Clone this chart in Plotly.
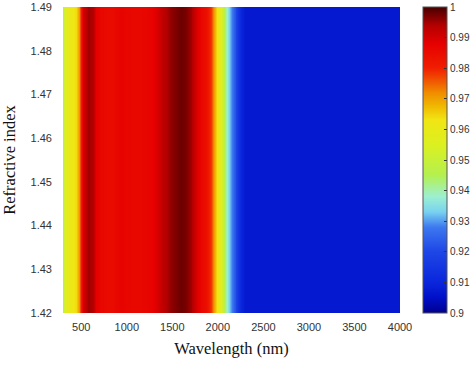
import plotly.graph_objects as go

# Data
wavelength = [300, 330, 385, 440, 472, 500, 516, 570, 627, 660, 715, 825, 935, 1045,
              1155, 1265, 1320, 1375, 1430, 1485, 1540, 1595, 1650, 1705, 1760, 1815,
              1870, 1925, 1958, 1990, 2024, 2057, 2090, 2123, 2156, 2189, 2222, 2255,
              2300, 2500, 3000, 3500, 4000]
transmission = [0.948, 0.958, 0.962, 0.964, 0.971, 0.982, 0.990, 0.995, 0.994, 0.988,
                0.986, 0.985, 0.987, 0.986, 0.986, 0.987, 0.989, 0.992, 0.994, 0.996,
                0.997, 0.998, 0.997, 0.995, 0.990, 0.986, 0.984, 0.978, 0.970, 0.963,
                0.958, 0.950, 0.940, 0.933, 0.928, 0.922, 0.915, 0.910, 0.907, 0.907,
                0.907, 0.907, 0.907]
refractive_index = [1.42, 1.49]
x_ticks = [500, 1000, 1500, 2000, 2500, 3000, 3500, 4000]
y_ticks = [1.42, 1.43, 1.44, 1.45, 1.46, 1.47, 1.48, 1.49]
cb_ticks = [0.90, 0.91, 0.92, 0.93, 0.94, 0.95, 0.96, 0.97, 0.98, 0.99, 1.00]
cb_labels = ["0.9", "0.91", "0.92", "0.93", "0.94", "0.95", "0.96", "0.97", "0.98", "0.99", "1"]

z = [transmission for _ in refractive_index]

colorscale = [
    [0.00, "#00008f"], [0.05, "#0010c8"], [0.10, "#0a26dc"], [0.20, "#1e46e6"],
    [0.28, "#3c78f0"], [0.33, "#78d2f0"], [0.38, "#9cf0d2"], [0.45, "#b4f050"],
    [0.55, "#dcf020"], [0.63, "#f0e614"], [0.68, "#f0b400"], [0.72, "#f08c00"],
    [0.77, "#f04600"], [0.80, "#f01e00"], [0.88, "#e60000"], [0.94, "#b40000"],
    [1.00, "#460000"],
]

fig = go.Figure(go.Heatmap(
    x=wavelength, y=refractive_index, z=z,
    zmin=0.9, zmax=1.0, zsmooth="best", colorscale=colorscale,
    colorbar=dict(
        x=1.068, xanchor="left", y=0.5, yanchor="middle", len=1.0, lenmode="fraction",
        thickness=24, thicknessmode="pixels", outlinewidth=1, outlinecolor="#555",
        xpad=0, ypad=0,
        tickvals=cb_ticks, ticktext=cb_labels, ticks="inside", ticklen=3,
        tickcolor="#333", tickfont=dict(family="Liberation Sans, Arial", size=10, color="#333"),
    ),
))

axis_font = dict(family="Liberation Sans, Arial", size=11, color="#333")
title_font = dict(family="Liberation Serif, Times New Roman", size=16.5, color="#111")

fig.update_layout(
    width=474, height=366,
    margin=dict(l=63, r=74, t=7, b=53, autoexpand=False),
    paper_bgcolor="white", plot_bgcolor="white",
    xaxis=dict(range=[300, 4000], tickvals=x_ticks, tickfont=axis_font,
               showgrid=False, zeroline=False, ticks="", ticklabelstandoff=6,
               automargin=False,
               title=dict(text="Wavelength (nm)", font=title_font, standoff=10)),
    yaxis=dict(range=[1.42, 1.49], tickvals=y_ticks, tickformat=".2f", tickfont=axis_font,
               showgrid=False, zeroline=False, ticks="", ticklabelstandoff=10,
               automargin=False,
               title=dict(text="Refractive index", font=title_font, standoff=14)),
)

fig.write_html("out.html", config={"displayModeBar": False},
               post_script="document.body.style.margin='0';")
